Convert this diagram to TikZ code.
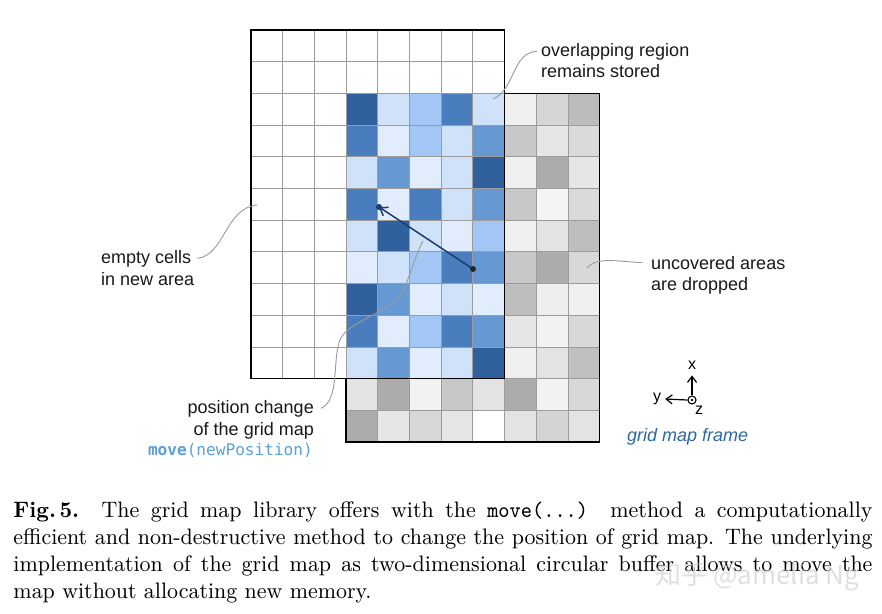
\documentclass[tikz,border=0pt]{standalone}
\usepackage{fontspec}
\newfontfamily\sansf{Liberation Sans}
\newfontfamily\codef{DejaVu Sans Mono}
\newfontfamily\cjk{Noto Sans CJK SC}
\usetikzlibrary{arrows.meta}
\definecolor{bA}{HTML}{30619E}
\definecolor{bB}{HTML}{4A7DBD}
\definecolor{bC}{HTML}{6698D3}
\definecolor{bD}{HTML}{A2C7F4}
\definecolor{bE}{HTML}{CFE2F9}
\definecolor{bF}{HTML}{E1EDFC}
\definecolor{gridc}{HTML}{9C9C9C}
\definecolor{annc}{HTML}{9A9A9A}
\definecolor{navy}{HTML}{1B3C73}
\definecolor{codeblue}{HTML}{5A9FDB}
\definecolor{framec}{HTML}{2C67A3}
\tikzset{
  cellbox/.style={draw=gridc, line width=0.9pt},
  mapborder/.style={draw=black, line width=1.5pt},
  lbl/.style={font=\sansf\fontsize{18}{22}\selectfont, inner sep=0pt, text=black!90},
  ann/.style={draw=annc, line width=0.9pt},
  movearrow/.style={draw=navy, line width=1.5pt, -{Straight Barb[length=7pt,width=10pt]}},
  axisarrow/.style={draw=black, line width=1.2pt, -{Straight Barb[length=6pt,width=9pt]}},
  axlbl/.style={font=\sansf\fontsize{16}{16}\selectfont, inner sep=0pt},
}
\begin{document}
\begin{tikzpicture}[x=1pt,y=-1pt]
\useasboundingbox (0,0) rectangle (882,613);
\fill[white] (0,0) rectangle (882,613);
\def\s{31.7}
% ---- old grid map (gray) ----
\foreach \vals [count=\r from 0] in {{240,214,188},{200,230,218},{240,172,230},{200,244,218},{240,227,190},{200,172,216},{190,238,240},{230,242,216},{240,227,192}}{
  \foreach \v [count=\c from 5] in \vals {
    \filldraw[cellbox, fill={rgb,255:red,\v;green,\v;blue,\v}] ({346.1+\c*\s},{93.4+\r*\s}) rectangle ++(\s,\s);
  }
}
\foreach \vals [count=\r from 9] in {{227,172,242,200,227,172,242,216},{172,230,216,230,255,227,212,227}}{
  \foreach \v [count=\c from 0] in \vals {
    \filldraw[cellbox, fill={rgb,255:red,\v;green,\v;blue,\v}] ({346.1+\c*\s},{93.4+\r*\s}) rectangle ++(\s,\s);
  }
}
\draw[mapborder] (346.1,93.4) rectangle ++(253.6,348.7);
% ---- new grid map ----
\fill[white] (251,30) rectangle ++(253.6,348.7);
\foreach \r in {0,...,10}{
  \foreach \c in {0,...,7}{
    \draw[cellbox] ({251+\c*\s},{30+\r*\s}) rectangle ++(\s,\s);
  }
}
\foreach \vals [count=\r from 2] in {{A,E,D,B,E},{B,F,D,E,C},{E,C,F,E,A},{B,F,B,E,C},{E,A,E,F,D},{F,E,D,B,C},{A,C,F,E,F},{B,F,D,B,C},{E,C,F,E,A}}{
  \foreach \v [count=\c from 3] in \vals {
    \filldraw[cellbox, fill=b\v] ({251+\c*\s},{30+\r*\s}) rectangle ++(\s,\s);
  }
}
\draw[mapborder] (251,30) rectangle ++(253.6,348.7);
% ---- move arrow ----
\coordinate (from) at (473,269);
\coordinate (to) at (379,207);
\draw[movearrow] (from) -- (to);
\fill[black!85] (from) circle (3);
\fill[navy] (to) circle (3);
% ---- labels ----
\node[lbl, anchor=base west] (ov1) at (541,56) {overlapping region};
\node[lbl, anchor=base west] (ov2) at (541,77) {remains stored};
\node[lbl, anchor=base west] (ec1) at (101,263) {empty cells};
\node[lbl, anchor=base west] (ec2) at (101,285) {in new area};
\node[lbl, anchor=base west] (uc1) at (651,269) {uncovered areas};
\node[lbl, anchor=base west] (uc2) at (651,290) {are dropped};
\node[lbl, anchor=base east] (pc1) at (314,413) {position change};
\node[lbl, anchor=base east] (pc2) at (314,435) {of the grid map};
\node[anchor=base east, inner sep=0pt, text=codeblue, font=\codef\fontsize{16.1}{18}\selectfont] (mv) at (313,455) {\textbf{move}(newPosition)};
% ---- annotation curves ----
\coordinate (ovp) at (493,99);
\coordinate (ecp) at (257,205);
\coordinate (ucp) at (587,268);
\coordinate (pcp) at (423,241);
\draw[ann] (ovp) .. controls (515,90) and (512,52) .. ([xshift=-4pt]ov1.west);
\draw[ann] ([xshift=6pt]ec1.east) .. controls (225,255) and (225,208) .. (ecp);
\draw[ann] (ucp) .. controls (597,256) and (620,262) .. ([xshift=-9pt]uc1.west);
\draw[ann] ([xshift=7pt]pc1.east) .. controls (340,400) and (332,360) .. (340,340) .. controls (348,320) and (396,312) .. (405,287) .. controls (412,268) and (418,250) .. (pcp);
% ---- axes ----
\node[circle, draw=black, line width=1.1pt, minimum size=8pt, inner sep=0pt] (o) at (692,400) {};
\fill (o) circle (1.3);
\node[axlbl] (xl) at (692,365) {x};
\node[axlbl] (yl) at (657,399) {y};
\node[axlbl] (zl) at (699,410) {z};
\draw[axisarrow] (o.north) -- ([yshift=-6pt]xl.south);
\draw[axisarrow] (o.west) -- ([xshift=4pt]yl.east);
\node[anchor=base west, inner sep=0pt, text=framec, font=\sansf\itshape\fontsize{18}{22}\selectfont] (gf) at (627,441) {grid map frame};
% ---- caption (9pt LNCS caption, scaled to the reference) ----
\node[anchor=base west, inner sep=0pt, xscale=2.373, yscale=2.484, transform shape, text width=362pt, align=justify, font=\fontsize{9}{11}\selectfont] (cap) at (13,517)
{\textbf{Fig.\,5.} The grid map library offers with the \texttt{move(...)} method a computationally\linebreak
efficient and non-destructive method to change the position of grid map. The underlying\linebreak
implementation of the grid map as two-dimensional circular buffer allows to move the\linebreak
map without allocating new memory.};
% ---- watermark ----
\node[anchor=base west, inner sep=0pt, text=gray!45, opacity=0.55, font=\cjk\fontsize{26}{28}\selectfont] (wm) at (655,584) {知乎 @amelia Ng};
\end{tikzpicture}
\end{document}
